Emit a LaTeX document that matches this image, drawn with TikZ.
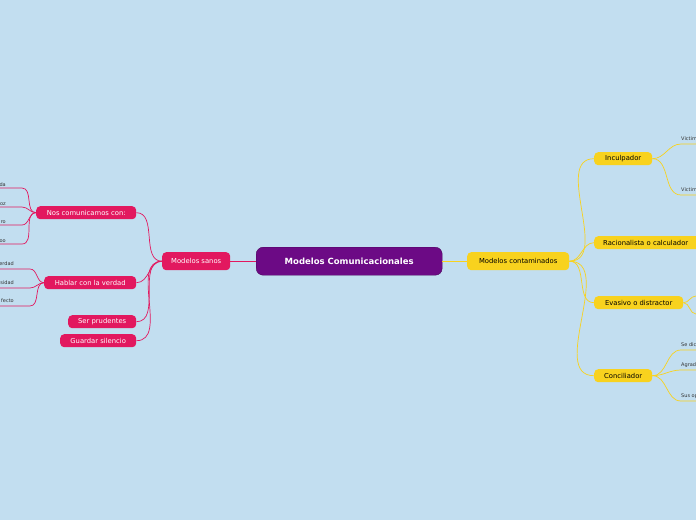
\documentclass[tikz,border=0pt]{standalone}
\usepackage{fontspec}
\setmainfont{DejaVu Sans}
\definecolor{bg}{HTML}{C2DEF0}
\definecolor{pk}{HTML}{E2185F}
\definecolor{pu}{HTML}{6C0A85}
\definecolor{ye}{HTML}{F8D21E}
\begin{document}
\begin{tikzpicture}[x=1pt,y=-1pt,
 pbox/.style={fill=pk,rounded corners=4pt,text=white,font=\fontsize{6.8}{7}\selectfont,inner sep=0pt,anchor=north west},
 ybox/.style={fill=ye,rounded corners=4pt,text=black,font=\fontsize{6.8}{7}\selectfont,inner sep=0pt,anchor=north west},
 pl/.style={draw=pk,line width=0.7pt},
 yl/.style={draw=ye,line width=0.7pt},
 lf/.style={font=\fontsize{5}{6}\selectfont,text=black!80,inner sep=0pt}]
\fill[bg] (0,0) rectangle (696,520);
\clip (0,0) rectangle (696,520);
\node[fill=pu,rounded corners=7pt,text=white,font=\bfseries\fontsize{8.5}{9}\selectfont,minimum width=186pt,minimum height=28pt,inner sep=0pt,anchor=north west,draw=pu!70!black] (c) at (256,247) {Modelos Comunicacionales};
\node[pbox,minimum width=68pt,minimum height=18pt] (s) at (162,252) {Modelos sanos};
\node[pbox,minimum width=100pt,minimum height=13pt] (s1) at (36,206) {Nos comunicamos con:};
\node[pbox,minimum width=92pt,minimum height=13pt] (s2) at (44,276) {Hablar con la verdad};
\node[pbox,minimum width=68pt,minimum height=13pt] (s3) at (68,315) {Ser prudentes};
\node[pbox,minimum width=76pt,minimum height=13pt] (s4) at (60,334) {Guardar silencio};
\node[ybox,minimum width=102pt,minimum height=18pt] (m) at (467,252) {Modelos contaminados};
\node[ybox,minimum width=58pt,minimum height=13pt] (y1) at (594,152) {Inculpador};
\node[ybox,text width=110pt,minimum height=13pt,align=left] (y2) at (594,236) {\hspace*{9pt}Racionalista o calculador};
\node[ybox,minimum width=89pt,minimum height=13pt] (y3) at (594,296) {Evasivo o distractor};
\node[ybox,minimum width=58pt,minimum height=13pt] (y4) at (594,369) {Conciliador};
\draw[draw=pk,line width=0.8pt] (c.west) -- (s.east);
\draw[draw=ye,line width=0.8pt] (c.east) -- (m.west);
\foreach \n in {s1,s2,s3,s4} \draw[pl] (s.west) to[out=180,in=0] (\n.east);
\foreach \n in {y1,y2,y3,y4} \draw[yl] (m.east) to[out=0,in=180] (\n.west);
\foreach \y in {188,207,225,244}{
 \coordinate (e) at (22,\y);
 \draw[pl] (s1.west) to[out=180,in=0] (e) -- (-5,\y);
}
\node[lf,anchor=base east] at (6,186) {da};
\node[lf,anchor=base east] at (6,205) {oz};
\node[lf,anchor=base east] at (6,223) {ro};
\node[lf,anchor=base east] at (6,242) {oo};
\foreach \y in {269,288,306}{
 \coordinate (e) at (30,\y);
 \draw[pl] (s2.west) to[out=180,in=0] (e) -- (-5,\y);
}
\node[lf,anchor=base east] at (14,265) {erdad};
\node[lf,anchor=base east] at (14,284) {sidad};
\node[lf,anchor=base east] at (14,302) {fecto};
\foreach \y/\t in {144/Victima,195/Victima}{
 \coordinate (e) at (681,\y);
 \draw[yl] (y1.east) to[out=0,in=180] (e) -- (700,\y);
 \node[lf,anchor=base west] at (681,\y-4) {\t};
}
\foreach \y in {296,314}{
 \coordinate (e) at (696,\y);
 \draw[yl] (y3.east) to[out=0,in=180] (e) -- (700,\y);
}
\foreach \y/\t in {350/Se dice,370/Agrada,401/Sus opiniones}{
 \coordinate (e) at (681,\y);
 \draw[yl] (y4.east) to[out=0,in=180] (e) -- (700,\y);
 \node[lf,anchor=base west] at (681,\y-4) {\t};
}
\end{tikzpicture}
\end{document}
